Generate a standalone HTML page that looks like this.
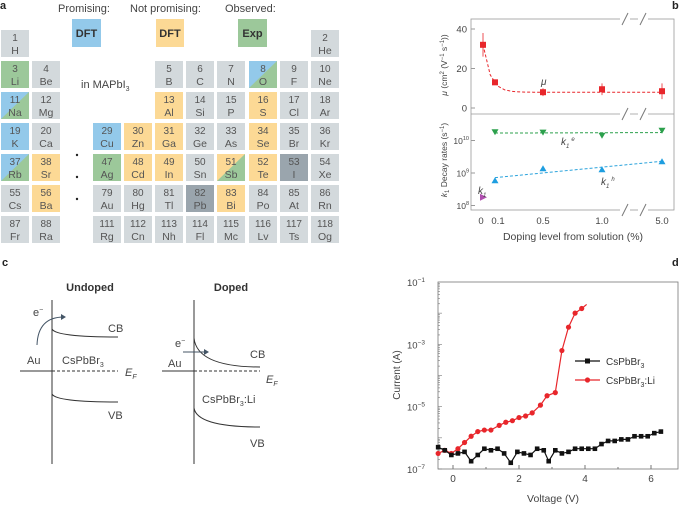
<!DOCTYPE html>
<html><head><meta charset="utf-8"><style>
body{margin:0;background:#fff}
svg{display:block;font-family:"Liberation Sans",sans-serif}
</style></head><body>
<svg id="fig" width="685" height="507" viewBox="0 0 685 507">
<g font-size="11" fill="#444">
<text x="0" y="9" font-weight="bold" font-size="11" fill="#222">a</text>
<text x="58" y="12">Promising:</text>
<text x="130" y="12">Not promising:</text>
<text x="225" y="12">Observed:</text>
<rect x="72" y="19" width="29" height="28" fill="#93c9ea"/>
<text x="86.5" y="37" text-anchor="middle" font-weight="bold" fill="#333">DFT</text>
<rect x="156" y="19" width="28" height="28" fill="#fcd995"/>
<text x="170" y="37" text-anchor="middle" font-weight="bold" fill="#333">DFT</text>
<rect x="238" y="19" width="29" height="28" fill="#9cc89a"/>
<text x="252.5" y="37" text-anchor="middle" font-weight="bold" fill="#333">Exp</text>
<text x="81" y="88">in MAPbI<tspan font-size="7" dy="3">3</tspan></text>
<circle cx="77" cy="155" r="1.2" fill="#222"/><circle cx="77" cy="177" r="1.2" fill="#222"/><circle cx="77" cy="199" r="1.2" fill="#222"/>
<g id="ptable"></g>
</g>

<g>
<text x="672" y="9" font-weight="bold" font-size="11" fill="#222">b</text>
<rect x="471" y="19" width="203" height="191" fill="none" stroke="#999" stroke-width="0.8"/>
<line x1="471" y1="114" x2="674" y2="114" stroke="#999" stroke-width="0.8"/>
<g id="bplot"></g>
<text transform="translate(447,65) rotate(-90)" text-anchor="middle" font-size="8.5" fill="#444"><tspan font-style="italic">μ</tspan> (cm<tspan font-size="6" dy="-3">2</tspan><tspan dy="3"> (V</tspan><tspan font-size="6" dy="-3">−1</tspan><tspan dy="3"> s</tspan><tspan font-size="6" dy="-3">−1</tspan><tspan dy="3">))</tspan></text>
<text transform="translate(447,160) rotate(-90)" text-anchor="middle" font-size="8.5" fill="#444"><tspan font-style="italic">k</tspan><tspan font-size="6" dy="2">1</tspan><tspan dy="-2"> Decay rates (s</tspan><tspan font-size="6" dy="-3">−1</tspan><tspan dy="3">)</tspan></text>
<text x="573" y="240" text-anchor="middle" font-size="10.5" fill="#444">Doping level from solution (%)</text>
</g>

<g fill="#444" font-size="11">
<text x="2" y="266" font-weight="bold" fill="#222">c</text>
<text x="90" y="291" text-anchor="middle" font-weight="bold" fill="#333">Undoped</text>
<text x="231" y="291" text-anchor="middle" font-weight="bold" fill="#333">Doped</text>
<g stroke="#333" fill="none" stroke-width="1">
<line x1="52" y1="300" x2="52" y2="464"/>
<line x1="20" y1="371" x2="52" y2="371"/>
<line x1="52" y1="371" x2="118" y2="371" stroke-dasharray="3,2"/>
<path d="M52 329 Q56 337 118 337"/>
<path d="M52 394 Q56 402 118 402"/>
<path d="M37 345 Q38 317 64 317" stroke="#456"/>
<line x1="194" y1="300" x2="194" y2="464"/>
<line x1="162" y1="371" x2="194" y2="371"/>
<line x1="194" y1="371" x2="260" y2="371" stroke-dasharray="3,2"/>
<path d="M194 338 Q197 367 260 367"/>
<path d="M194 408 Q197 427 260 427"/>
<line x1="183" y1="352" x2="206" y2="352" stroke="#456"/>
</g>
<path d="M66 317 L61 314 L61 320Z" fill="#456"/><path d="M209 352 L204 349 L204 355Z" fill="#456"/>
<text x="33" y="316">e<tspan font-size="7" dy="-4">−</tspan></text>
<text x="108" y="332">CB</text><text x="27" y="364">Au</text>
<text x="62" y="364">CsPbBr<tspan font-size="7" dy="3">3</tspan></text>
<text x="125" y="376" font-style="italic">E<tspan font-size="7" dy="3">F</tspan></text>
<text x="108" y="419">VB</text>
<text x="175" y="347">e<tspan font-size="7" dy="-4">−</tspan></text>
<text x="250" y="358">CB</text><text x="168" y="367">Au</text>
<text x="266" y="383" font-style="italic">E<tspan font-size="7" dy="3">F</tspan></text>
<text x="202" y="403">CsPbBr<tspan font-size="7" dy="3">3</tspan><tspan dy="-3">:Li</tspan></text>
<text x="250" y="447">VB</text>
</g>

<g>
<text x="672" y="266" font-weight="bold" font-size="11" fill="#222">d</text>
<rect x="438" y="282" width="240" height="187" fill="none" stroke="#777" stroke-width="0.8"/>
<g id="dplot"></g>
<text transform="translate(400,375) rotate(-90)" text-anchor="middle" font-size="10" fill="#444">Current (A)</text>
<text x="553" y="502" text-anchor="middle" font-size="10.5" fill="#444">Voltage (V)</text>
<g font-size="10" fill="#333">
<line x1="575" y1="361" x2="600" y2="361" stroke="#111" stroke-width="1.2"/><rect x="585" y="358.5" width="5" height="5" fill="#111"/>
<text x="606" y="365">CsPbBr<tspan font-size="7" dy="3">3</tspan></text>
<line x1="575" y1="380" x2="600" y2="380" stroke="#e8262b" stroke-width="1.2"/><circle cx="587.5" cy="380" r="2.6" fill="#e8262b"/>
<text x="606" y="384">CsPbBr<tspan font-size="7" dy="3">3</tspan><tspan dy="-3">:Li</tspan></text>
</g>
</g>
</svg>
<script>
var NS="http://www.w3.org/2000/svg";
function mk(t,a,p){var e=document.createElementNS(NS,t);for(var k in a)e.setAttribute(k,a[k]);p.appendChild(e);return e;}
// ---- periodic table ----
var elems=[["1","H",0,0,"g"],["2","He",9,0,"g"],
["3","Li",0,1,"G"],["4","Be",1,1,"g"],["5","B",4,1,"g"],["6","C",5,1,"g"],["7","N",6,1,"g"],["8","O",7,1,"BG"],["9","F",8,1,"g"],["10","Ne",9,1,"g"],
["11","Na",0,2,"BG"],["12","Mg",1,2,"g"],["13","Al",4,2,"O"],["14","Si",5,2,"g"],["15","P",6,2,"g"],["16","S",7,2,"O"],["17","Cl",8,2,"g"],["18","Ar",9,2,"g"],
["19","K",0,3,"B"],["20","Ca",1,3,"g"],["29","Cu",2,3,"B"],["30","Zn",3,3,"O"],["31","Ga",4,3,"O"],["32","Ge",5,3,"g"],["33","As",6,3,"g"],["34","Se",7,3,"O"],["35","Br",8,3,"g"],["36","Kr",9,3,"g"],
["37","Rb",0,4,"BG"],["38","Sr",1,4,"O"],["47","Ag",2,4,"G"],["48","Cd",3,4,"O"],["49","In",4,4,"O"],["50","Sn",5,4,"g"],["51","Sb",6,4,"OG"],["52","Te",7,4,"O"],["53","I",8,4,"d"],["54","Xe",9,4,"g"],
["55","Cs",0,5,"g"],["56","Ba",1,5,"O"],["79","Au",2,5,"g"],["80","Hg",3,5,"g"],["81","Tl",4,5,"g"],["82","Pb",5,5,"d"],["83","Bi",6,5,"O"],["84","Po",7,5,"g"],["85","At",8,5,"g"],["86","Rn",9,5,"g"],
["87","Fr",0,6,"g"],["88","Ra",1,6,"g"],["111","Rg",2,6,"g"],["112","Cn",3,6,"g"],["113","Nh",4,6,"g"],["114","Fl",5,6,"g"],["115","Mc",6,6,"g"],["116","Lv",7,6,"g"],["117","Ts",8,6,"g"],["118","Og",9,6,"g"]];
var colX=[1,32,93,124,155,186,217,249,280,311],col={g:"#d3d9dc",B:"#93c9ea",O:"#fcd995",G:"#9cc89a",d:"#9aa5ad"};
var pt=document.getElementById("ptable");
elems.forEach(function(e){var x=colX[e[2]],y=30+e[3]*31,w=28,h=27;
 var g=mk("g",{},pt);
 
 
 if(e[4].length==2){mk("rect",{x:x,y:y,width:w,height:h,fill:col[e[4][1]]},g);
  mk("path",{d:"M"+x+" "+(y+h)+"L"+x+" "+y+"L"+(x+w)+" "+y+"Z",fill:col[e[4][0]]},g);}
 else mk("rect",{x:x,y:y,width:w,height:h,fill:col[e[4]]},g);
 var t1=mk("text",{x:x+w/2,y:y+11,"text-anchor":"middle","font-size":"10",fill:"#555"},g);t1.textContent=e[0];
 var t2=mk("text",{x:x+w/2,y:y+24,"text-anchor":"middle","font-size":"10.5",fill:"#555"},g);t2.textContent=e[1];
});
// ---- panel b ----
var bCats=["0","0.1","0.5","1.0","5.0"];
var muVals=[32,13,8,9.5,8.5];
var muErr=[6,1,2,3,4];
var k1eVals=[null,1.8e10,1.75e10,1.4e10,2e10];
var k1hVals=[null,6e8,1.4e9,1.3e9,2.3e9];
var k1Vals=[1.8e8,null,null,null,null];
var muTicks=[0,20,40];
var kTicks=[8,9,10];
var bPos=[483,495,543,602,662];
function bx(i){return bPos[i];}
function byMu(v){return 108-v*1.975;}
function byK(v){return 173-(Math.log10(v)-9)*32.5;}
var bp=document.getElementById("bplot");
muTicks.forEach(function(t){var y=byMu(t);mk("line",{x1:471,x2:475,y1:y,y2:y,stroke:"#999"},bp);
 var tx=mk("text",{x:467,y:y+3.5,"text-anchor":"end","font-size":"9.5",fill:"#444"},bp);tx.textContent=t;});
kTicks.forEach(function(t){var y=byK(Math.pow(10,t));mk("line",{x1:471,x2:475,y1:y,y2:y,stroke:"#999"},bp);
 var tx=mk("text",{x:469,y:y+3.5,"text-anchor":"end","font-size":"8.5",fill:"#444"},bp);tx.textContent="10";
 var s=mk("tspan",{"font-size":"5.5",dy:"-4"},tx);s.textContent=t;});
bCats.forEach(function(c,i){var tx=mk("text",{x:bx(i)+(i==0?-2:i==1?3:0),y:224,"text-anchor":"middle","font-size":"9.5",fill:"#444"},bp);tx.textContent=c;});
[[625,19],[643,19],[625,114],[643,114],[625,210],[643,210]].forEach(function(p){mk("rect",{x:p[0]-5,y:p[1]-6,width:10,height:12,fill:"#fff"},bp);mk("line",{x1:p[0]-3,y1:p[1]+6,x2:p[0]+3,y2:p[1]-6,stroke:"#777"},bp);});
var dpath="";for(var t=0;t<=1;t+=0.02){var v=8+24*Math.exp(-t*50);var xx=483+t*(662-483)*2;if(xx>662)break;dpath+=(dpath?"L":"M")+xx.toFixed(1)+" "+byMu(v).toFixed(1);}
var fit=mk("path",{d:dpath+"L662 "+byMu(8),fill:"none",stroke:"#e8262b","stroke-dasharray":"3,2"},bp);


muVals.forEach(function(v,i){var x=bx(i),y=byMu(v);
 mk("line",{x1:x,x2:x,y1:byMu(v+muErr[i]),y2:byMu(v-muErr[i]),stroke:"#e8262b","stroke-width":0.8},bp);
 var r=mk("rect",{x:x-3,y:y-3,width:6,height:6,fill:"#e8262b"},bp);
 
 });
function fitLine(vals,color,name){var idx=[];vals.forEach(function(v,i){if(v)idx.push(i);});
 var n=idx.length,sx=0,sy=0,sxx=0,sxy=0;idx.forEach(function(i){var x=bx(i),y=Math.log10(vals[i]);sx+=x;sy+=y;sxx+=x*x;sxy+=x*y;});
 var m=(n*sxy-sx*sy)/(n*sxx-sx*sx),b=(sy-m*sx)/n,x0=bx(idx[0]),x1=bx(idx[n-1]);
 var l=mk("line",{x1:x0,x2:x1,y1:byK(Math.pow(10,m*x0+b)),y2:byK(Math.pow(10,m*x1+b)),stroke:color,"stroke-dasharray":"3,2"},bp);
 
 }
fitLine(k1eVals,"#2ca04c","k1e-fit-line");fitLine(k1hVals,"#2ba3dc","k1h-fit-line");
k1eVals.forEach(function(v,i){if(!v)return;var x=bx(i),y=byK(v);
 var p=mk("path",{d:"M"+(x-3.5)+" "+(y-3)+"L"+(x+3.5)+" "+(y-3)+"L"+x+" "+(y+3)+"Z",fill:"#2ca04c"},bp);
 
 });
k1hVals.forEach(function(v,i){if(!v)return;var x=bx(i),y=byK(v);
 var p=mk("path",{d:"M"+(x-3.5)+" "+(y+3)+"L"+(x+3.5)+" "+(y+3)+"L"+x+" "+(y-3)+"Z",fill:"#1e9ee0"},bp);
 
 });
k1Vals.forEach(function(v,i){if(!v)return;var x=bx(i),y=byK(v);
 var p=mk("path",{d:"M"+(x-3)+" "+(y-3.5)+"L"+(x-3)+" "+(y+3.5)+"L"+(x+4)+" "+y+"Z",fill:"#b04fb0"},bp);
 
 });
function lab(x,y,main,sub,sup){var t=mk("text",{x:x,y:y,"font-size":"10","font-style":"italic",fill:"#444"},bp);t.textContent=main;
 var s=mk("tspan",{"font-size":"6",dy:"3"},t);s.textContent=sub;if(sup){var u=mk("tspan",{"font-size":"6",dy:"-7",dx:"2"},t);u.textContent=sup;}}
var ml=mk("text",{x:541,y:85,"font-size":"10","font-style":"italic",fill:"#444"},bp);ml.textContent="μ";
lab(561,145,"k","1","e");lab(601,185,"k","1","h");lab(478,194,"k","1");
// ---- panel d ----
var blackV=[-0.45,-0.25,-0.05,0.15,0.35,0.55,0.75,0.95,1.15,1.35,1.55,1.75,1.95,2.15,2.35,2.55,2.75,2.9,3.1,3.3,3.5,3.7,3.9,4.1,4.3,4.5,4.7,4.9,5.1,5.3,5.5,5.7,5.9,6.1,6.3];
var blackLogI=[-6.3,-6.4,-6.55,-6.5,-6.45,-6.75,-6.55,-6.35,-6.4,-6.35,-6.5,-6.8,-6.45,-6.5,-6.55,-6.35,-6.4,-6.75,-6.4,-6.5,-6.45,-6.35,-6.35,-6.35,-6.35,-6.2,-6.1,-6.1,-6.05,-6.05,-5.95,-5.95,-5.95,-5.85,-5.8];
var redV=[-0.45,-0.25,-0.05,0.15,0.35,0.55,0.75,0.95,1.15,1.4,1.6,1.8,2.0,2.2,2.4,2.65,2.85,3.1,3.3,3.5,3.7,3.9];
var redLogI=[-6.5,-6.4,-6.5,-6.35,-6.15,-5.95,-5.8,-5.75,-5.75,-5.6,-5.5,-5.45,-5.35,-5.3,-5.2,-4.95,-4.65,-4.55,-3.2,-2.45,-2.0,-1.85];
var xTicksD=[0,2,4,6];
var yTicksD=[-7,-5,-3,-1];
function dx(v){return 453+v*33;}
function dy(l){return 469-(l+7)*31.17;}
var dp=document.getElementById("dplot");
xTicksD.forEach(function(t){mk("line",{x1:dx(t),x2:dx(t),y1:469,y2:465,stroke:"#777"},dp);if(t<6)mk("line",{x1:dx(t+1),x2:dx(t+1),y1:469,y2:467,stroke:"#777"},dp);
 var tx=mk("text",{x:dx(t),y:482,"text-anchor":"middle","font-size":"10",fill:"#444"},dp);tx.textContent=t;});
for(var d=-7;d<-1;d++)for(var k=1;k<10;k++){var y=dy(d+Math.log10(k));mk("line",{x1:438,x2:k==1?442:440,y1:y,y2:y,stroke:"#777","stroke-width":0.6},dp);}
yTicksD.forEach(function(t){var tx=mk("text",{x:425,y:dy(t)+4,"text-anchor":"end","font-size":"9.5",fill:"#444"},dp);tx.textContent="10";
 var s=mk("tspan",{"font-size":"6.5",dy:"-4"},tx);s.textContent="−"+(-t);});
function series(V,L,color,name,sq,extra){var d="";V.forEach(function(v,i){d+=(i?"L":"M")+dx(v).toFixed(1)+" "+dy(L[i]).toFixed(1);});
 if(extra)d+="L"+dx(extra[0])+" "+dy(extra[1]);
 var p=mk("path",{d:d,fill:"none",stroke:color,"stroke-width":1.2},dp);
 
 
 V.forEach(function(v,i){var m=sq?mk("rect",{x:dx(v)-2.3,y:dy(L[i])-2.3,width:4.6,height:4.6,fill:color},dp):mk("circle",{cx:dx(v),cy:dy(L[i]),r:2.6,fill:color},dp);
  
  });}
series(redV,redLogI,"#e8262b","cspbbr3-li",false,[4.05,-1.72]);
series(blackV,blackLogI,"#111","cspbbr3",true);
</script>
</body></html>
